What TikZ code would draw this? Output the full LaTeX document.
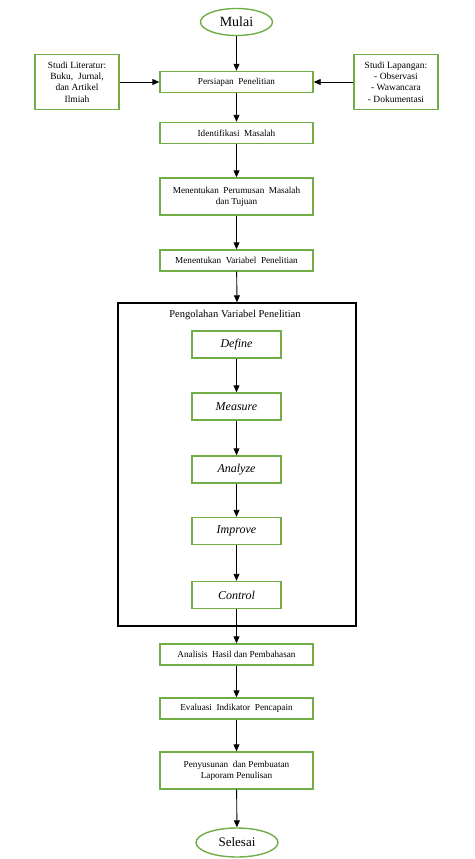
\documentclass[tikz,border=0pt]{standalone}
\usepackage{fontspec}
\setmainfont{Liberation Serif}
\usepackage{xcolor}
\usetikzlibrary{shapes,arrows.meta,positioning,fit,calc}

\definecolor{hijau}{RGB}{112,173,71}

\tikzset{
  kotak/.style={draw=hijau, line width=1.4pt, fill=white, align=center,
    minimum width=153pt, minimum height=21pt, inner sep=1pt, font=\fontsize{9.2}{11}\selectfont},
  sisi/.style={kotak, minimum width=84pt, minimum height=55pt, font=\fontsize{9.5}{11.3}\selectfont},
  tahap/.style={kotak, minimum width=89pt, minimum height=27pt, font=\fontsize{12}{14}\selectfont\itshape},
  ujung/.style={ellipse, draw=hijau, line width=1.4pt, minimum width=72pt, minimum height=27pt,
    inner sep=0pt, font=\fontsize{13}{15}\selectfont},
  panah/.style={-{Triangle[width=6pt,length=7pt]}, line width=0.9pt, black}
}

\begin{document}
\begin{tikzpicture}[x=1pt,y=-1pt]
    \useasboundingbox (0,0) rectangle (474,859);

    % blok pengolahan
    \node[draw, line width=1.4pt, minimum width=238pt, minimum height=323pt] (olah) at (237,464.5) {};
    \node[font=\fontsize{10.5}{12}\selectfont] (judul) at (235,315) {Pengolahan Variabel Penelitian};

    \node[ujung, font=\fontsize{14}{16}\selectfont] (mulai) at (236.5,22) {Mulai};
    \node[kotak] (siap) at (236.5,82) {Persiapan\ \ Penelitian};
    \node[sisi] (lit) at (77,82) {Studi Literatur:\\Buku,\ \ Jurnal,\\dan Artikel\\Ilmiah};
    \node[sisi] (lap) at (396,82) {Studi Lapangan:\\- Observasi\\- Wawancara\\- Dokumentasi};
    \node[kotak] (idn) at (236.5,133) {Identifikasi\ \ Masalah};
    \node[kotak, minimum height=37pt] (rumus) at (236.5,196.5) {Menentukan\ \ Perumusan\ \ Masalah\\dan Tujuan};
    \node[kotak] (var) at (236.5,260.5) {Menentukan\ \ Variabel\ \ Penelitian};

    \node[tahap] (def) at (236.5,344.5) {Define};
    \node[tahap] (meas) at (236.5,406.5) {Measure};
    \node[tahap] (anl) at (236.5,469.5) {Analyze};
    \node[tahap] (imp) at (236.5,531) {Improve};
    \node[tahap] (ctrl) at (236.5,595) {Control};

    \node[kotak] (hasil) at (236.5,654.5) {Analisis\ \ Hasil\ dan Pembahasan};
    \node[kotak] (eval) at (236.5,708.5) {Evaluasi\ \ Indikator\ \ Pencapain};
    \node[kotak, minimum height=37pt] (susun) at (236.5,770.5) {Penyusunan\ \ dan Pembuatan\\Laporam Penulisan};
    \node[ujung, minimum width=82pt, minimum height=29pt] (selesai) at (237,842.5) {Selesai};

    \draw[panah] (mulai) -- (siap);
    \draw[panah] (lit) -- (siap);
    \draw[panah] (lap) -- (siap);
    \draw[panah] (siap) -- (idn);
    \draw[panah] (idn) -- (rumus);
    \draw[panah] (rumus) -- (var);
    \draw[panah] (var) -- (olah.north);
    \draw[panah] (def) -- (meas);
    \draw[panah] (meas) -- (anl);
    \draw[panah] (anl) -- (imp);
    \draw[panah] (imp) -- (ctrl);
    \draw[panah] (ctrl) -- (hasil);
    \draw[panah] (hasil) -- (eval);
    \draw[panah] (eval) -- (susun);
    \draw[panah] (susun) -- (selesai);
\end{tikzpicture}
\end{document}
